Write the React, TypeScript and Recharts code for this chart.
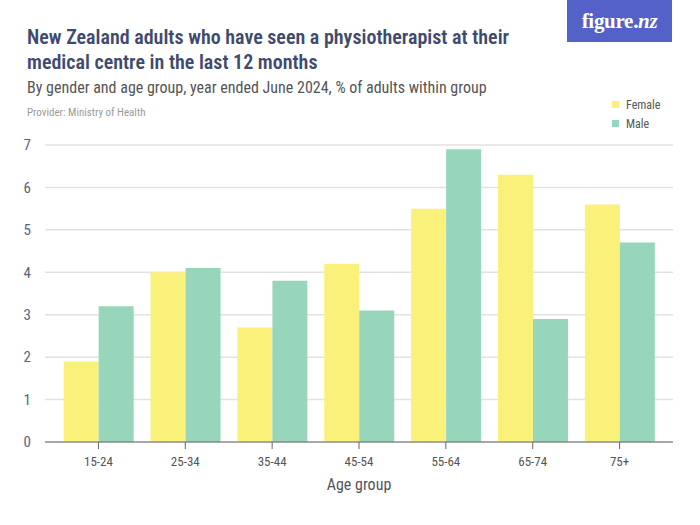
import React from 'react';
import { BarChart, Bar, XAxis, YAxis, CartesianGrid } from 'recharts';

const ageGroups = ['15-24', '25-34', '35-44', '45-54', '55-64', '65-74', '75+'];
const female = [1.9, 4.0, 2.7, 4.2, 5.5, 6.3, 5.6];
const male = [3.2, 4.1, 3.8, 3.1, 6.9, 2.9, 4.7];
const yTicks = [0, 1, 2, 3, 4, 5, 6, 7];
const seriesNames = ['Female', 'Male'];
const seriesColors = ['#f9f17a', '#98d6bb'];

const data = ageGroups.map((group, i) => ({ group, Female: female[i], Male: male[i] }));

const FONT = "'Liberation Sans Narrow', 'Roboto Condensed', Roboto, sans-serif";

const LegendBox = () => (
  <div style={{ position: 'absolute', left: 612, top: 95, fontFamily: FONT, fontSize: 12, color: '#555' }}>
    {seriesNames.map((name, i) => (
      <div key={name} style={{ display: 'flex', alignItems: 'center', height: 19 }}>
        <span style={{ width: 7, height: 7, background: seriesColors[i], marginRight: 7 }} />
        {name}
      </div>
    ))}
  </div>
);

const App: React.FC = () => {
  return (
    <div style={{ position: 'absolute', left: 0, top: 0, width: 700, height: 525, background: '#fff', fontFamily: FONT }}>
      <div style={{ position: 'absolute', left: 567, top: 0, width: 105, height: 42, background: '#5461c8', color: '#fff', fontFamily: "'Liberation Serif', serif", fontSize: 21, fontWeight: 'bold', display: 'flex', alignItems: 'center', justifyContent: 'center', letterSpacing: -0.3 }}>
        figure.<i>nz</i>
      </div>
      <div style={{ position: 'absolute', left: 27, top: 25, width: 540, color: '#3f4b6e', fontSize: 20, fontWeight: 600, lineHeight: '25px' }}>
        New Zealand adults who have seen a physiotherapist at their<br />medical centre in the last 12 months
      </div>
      <div style={{ position: 'absolute', left: 27, top: 78, color: '#555', fontSize: 16 }}>
        By gender and age group, year ended June 2024, % of adults within group
      </div>
      <div style={{ position: 'absolute', left: 27, top: 106, color: '#999', fontSize: 11 }}>
        Provider: Ministry of Health
      </div>
      <LegendBox />
      <div style={{ position: 'absolute', left: 0, top: 0 }}>
        <BarChart width={700} height={525} data={data} margin={{ top: 145, right: 27, bottom: 30, left: 0 }} barCategoryGap="10%" barGap={0}>
          <CartesianGrid vertical={false} stroke="#e2e2e2" strokeWidth={1.5} />
          <XAxis
            dataKey="group"
            padding={{ left: 10, right: 10 }}
            height={53}
            stroke="#666"
            tickSize={7}
            tick={{ fill: '#555', fontSize: 13, fontFamily: FONT }}
            tickMargin={8}
            label={{ value: 'Age group', position: 'insideBottom', offset: 5, fill: '#555', fontSize: 16, fontFamily: FONT }}
          />
          <YAxis
            domain={[0, 7]}
            ticks={yTicks}
            width={45}
            axisLine={false}
            tickLine={false}
            tickMargin={8}
            tick={{ fill: '#5a6480', fontSize: 15, fontFamily: FONT }}
          />
          <Bar dataKey="Female" fill={seriesColors[0]} isAnimationActive={false} />
          <Bar dataKey="Male" fill={seriesColors[1]} isAnimationActive={false} />
        </BarChart>
      </div>
    </div>
  );
};

export default App;
